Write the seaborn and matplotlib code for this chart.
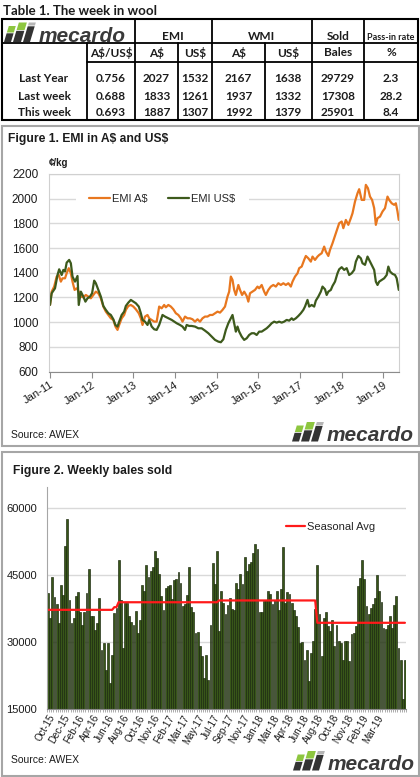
import numpy as np
import matplotlib
matplotlib.use("Agg")
import matplotlib.pyplot as plt
import seaborn as sns
from matplotlib.patches import Rectangle, Polygon

# ---- Table 1. The week in wool
table_rows = ["Last Year", "Last week", "This week"]
aud_usd_tbl = ["0.756", "0.688", "0.693"]
emi_aud_tbl = [2027, 1833, 1887]
emi_usd_tbl = [1532, 1261, 1307]
wmi_aud_tbl = [2167, 1937, 1992]
wmi_usd_tbl = [1638, 1332, 1379]
bales_tbl = [29729, 17308, 25901]
passin_tbl = ["2.3", "28.2", "8.4"]

# ---- Figure 1. EMI in A$ and US$ (c/kg), x in decimal years
emi_aud_year = [
    2011.00, 2011.04, 2011.10, 2011.16, 2011.21, 2011.26, 2011.30, 2011.36, 2011.40, 2011.45,
    2011.50, 2011.54, 2011.59, 2011.64, 2011.69, 2011.74, 2011.80, 2011.86, 2011.92, 2011.98,
    2012.04, 2012.10, 2012.16, 2012.22, 2012.28, 2012.34, 2012.40, 2012.46, 2012.52, 2012.57,
    2012.62, 2012.66, 2012.72, 2012.78, 2012.82, 2012.88, 2012.94, 2013.00, 2013.06, 2013.13,
    2013.18, 2013.22, 2013.28, 2013.34, 2013.38, 2013.44, 2013.50, 2013.56, 2013.62, 2013.68,
    2013.74, 2013.78, 2013.84, 2013.90, 2013.96, 2014.02, 2014.08, 2014.14, 2014.18, 2014.24,
    2014.30, 2014.36, 2014.42, 2014.48, 2014.54, 2014.60, 2014.66, 2014.72, 2014.78, 2014.84,
    2014.90, 2014.96, 2015.02, 2015.08, 2015.14, 2015.20, 2015.26, 2015.30, 2015.34, 2015.38,
    2015.42, 2015.46, 2015.52, 2015.56, 2015.61, 2015.66, 2015.72, 2015.76, 2015.80, 2015.86,
    2015.92, 2015.98, 2016.02, 2016.08, 2016.14, 2016.18, 2016.24, 2016.30, 2016.36, 2016.42,
    2016.48, 2016.54, 2016.60, 2016.66, 2016.72, 2016.78, 2016.82, 2016.88, 2016.94, 2016.98,
    2017.04, 2017.10, 2017.14, 2017.20, 2017.26, 2017.30, 2017.36, 2017.42, 2017.46, 2017.52,
    2017.58, 2017.62, 2017.68, 2017.72, 2017.78, 2017.84, 2017.90, 2017.94, 2018.00, 2018.04,
    2018.10, 2018.16, 2018.22, 2018.26, 2018.32, 2018.38, 2018.42, 2018.48, 2018.54, 2018.58,
    2018.63, 2018.68, 2018.73, 2018.78, 2018.82, 2018.86, 2018.92, 2018.98, 2019.04, 2019.10,
    2019.14, 2019.20, 2019.26, 2019.30, 2019.34, 2019.37,
]
emi_aud = [
    1139, 1247, 1288, 1369, 1382, 1328, 1355, 1355, 1396, 1437,
    1396, 1328, 1261, 1274, 1247, 1207, 1201, 1220, 1207, 1193,
    1220, 1247, 1234, 1193, 1126, 1085, 1058, 1031, 1018, 964,
    937, 977, 1031, 1058, 1099, 1131, 1139, 1126, 1104, 1072,
    1031, 977, 1045, 1058, 1031, 1018, 1004, 1004, 1126, 1112,
    1139, 1120, 1139, 1126, 1104, 1072, 1058, 1031, 1004, 1045,
    1031, 1031, 1023, 1004, 1023, 1004, 1031, 1045, 1045, 1058,
    1058, 1072, 1085, 1077, 1099, 1126, 1207, 1247, 1369, 1342,
    1261, 1220, 1301, 1261, 1220, 1247, 1212, 1166, 1234, 1247,
    1261, 1288, 1274, 1301, 1247, 1220, 1261, 1288, 1301, 1288,
    1315, 1301, 1315, 1301, 1315, 1288, 1328, 1369, 1396, 1437,
    1450, 1504, 1536, 1517, 1490, 1531, 1504, 1531, 1544, 1558,
    1612, 1572, 1536, 1585, 1639, 1699, 1761, 1801, 1815, 1761,
    1828, 1788, 1842, 1882, 1977, 2044, 2077, 1990, 1990, 2112,
    2085, 2017, 1990, 1923, 1788, 1842, 1855, 1896, 1923, 2017,
    1990, 1963, 1950, 1963, 1896, 1828,
]
emi_usd_year = [
    2011.00, 2011.04, 2011.12, 2011.18, 2011.22, 2011.28, 2011.32, 2011.36, 2011.40, 2011.46,
    2011.50, 2011.54, 2011.60, 2011.66, 2011.69, 2011.74, 2011.80, 2011.85, 2011.90, 2011.96,
    2012.01, 2012.06, 2012.10, 2012.16, 2012.22, 2012.28, 2012.34, 2012.40, 2012.46, 2012.52,
    2012.57, 2012.62, 2012.66, 2012.72, 2012.78, 2012.82, 2012.88, 2012.94, 2013.00, 2013.06,
    2013.13, 2013.18, 2013.22, 2013.28, 2013.34, 2013.38, 2013.44, 2013.50, 2013.56, 2013.62,
    2013.70, 2013.76, 2013.84, 2013.92, 2013.98, 2014.04, 2014.12, 2014.18, 2014.24, 2014.28,
    2014.34, 2014.40, 2014.48, 2014.56, 2014.64, 2014.72, 2014.80, 2014.88, 2014.96, 2015.04,
    2015.10, 2015.16, 2015.22, 2015.28, 2015.34, 2015.38, 2015.42, 2015.46, 2015.50, 2015.54,
    2015.60, 2015.66, 2015.72, 2015.78, 2015.84, 2015.90, 2015.96, 2016.02, 2016.08, 2016.14,
    2016.20, 2016.26, 2016.32, 2016.38, 2016.44, 2016.50, 2016.56, 2016.62, 2016.68, 2016.74,
    2016.80, 2016.84, 2016.90, 2016.96, 2017.02, 2017.08, 2017.12, 2017.18, 2017.22, 2017.28,
    2017.34, 2017.38, 2017.44, 2017.50, 2017.54, 2017.60, 2017.64, 2017.68, 2017.74, 2017.78,
    2017.84, 2017.90, 2017.94, 2018.00, 2018.06, 2018.12, 2018.18, 2018.24, 2018.30, 2018.34,
    2018.40, 2018.46, 2018.50, 2018.56, 2018.62, 2018.66, 2018.72, 2018.78, 2018.82, 2018.86,
    2018.90, 2018.96, 2019.02, 2019.08, 2019.12, 2019.16, 2019.22, 2019.28, 2019.32, 2019.37,
]
emi_usd = [
    1140, 1234, 1274, 1382, 1428, 1382, 1423, 1410, 1482, 1504,
    1477, 1369, 1328, 1374, 1139, 1247, 1207, 1166, 1193, 1207,
    1234, 1336, 1315, 1261, 1207, 1131, 1099, 1072, 1058, 1023,
    977, 964, 1004, 1058, 1085, 1131, 1158, 1180, 1166, 1153,
    1126, 1072, 1018, 1004, 977, 1018, 964, 942, 937, 977,
    1058, 1045, 1031, 1018, 1004, 991, 977, 964, 937, 977,
    969, 969, 964, 950, 950, 931, 910, 883, 856, 842,
    837, 861, 937, 991, 1031, 1058, 991, 923, 964, 923,
    883, 856, 869, 896, 910, 910, 896, 923, 923, 937,
    950, 969, 991, 1004, 996, 1004, 996, 1004, 1018, 1012,
    1031, 1018, 1031, 1050, 1072, 1099, 1126, 1180, 1126, 1139,
    1126, 1174, 1207, 1247, 1288, 1266, 1220, 1247, 1261, 1293,
    1328, 1396, 1428, 1445, 1423, 1437, 1382, 1396, 1423, 1490,
    1536, 1517, 1477, 1464, 1531, 1504, 1464, 1423, 1328, 1301,
    1328, 1342, 1355, 1382, 1450, 1410, 1391, 1382, 1355, 1261,
]
emi_ticks = [2011, 2012, 2013, 2014, 2015, 2016, 2017, 2018, 2019]
emi_tick_labels = ["Jan-11", "Jan-12", "Jan-13", "Jan-14", "Jan-15",
                   "Jan-16", "Jan-17", "Jan-18", "Jan-19"]

# ---- Figure 2. Weekly bales sold, one value per sale week, by season
bales_1516 = [41000, 35300, 44600, 40000, 38600, 34200, 42700, 40500, 51400, 57500,
              39400, 34200, 35300, 40300, 41300, 36800, 33700, 36700, 41000, 46300,
              35900, 35800, 32600, 34200, 39900, 28300, 29800, 23800, 29800, 20900,
              27000, 36500, 37500]
bales_1617 = [48400, 39500, 28600, 38800, 38800, 35800, 34400, 33900, 36900, 32000,
              35000, 42700, 41500, 47200, 44600, 46000, 46800, 50400, 48900, 45200,
              40300, 37100, 42000, 42500, 42700, 39700, 43900, 44000, 45700, 43300,
              38000, 38600, 40600, 46700, 37900, 36700, 32000, 32200, 29000, 26800,
              21900, 27000, 21400, 33700, 47600, 42900, 50400]
bales_1718 = [32400, 41400, 38800, 36200, 38200, 39900, 37300, 37100, 43100, 41900,
              45200, 43000, 49100, 45900, 47400, 47900, 49900, 51900, 50800, 36700,
              36700, 39200, 39500, 41400, 40700, 38400, 39500, 41400, 37100, 41800,
              51200, 38800, 41200, 40700, 38800, 37100, 35900, 33400, 29800, 29900,
              26000, 28300, 21200, 27500, 30200, 37300]
bales_1819 = [47200, 36200, 26800, 35400, 36700, 33500, 32400, 35000, 29000, 33900,
              30200, 29800, 26000, 30200, 30200, 25700, 31700, 32000, 33500, 42500,
              44400, 48400, 44000, 38000, 36200, 37700, 38400, 39900, 44900, 41400,
              38900, 33200, 32800, 33900, 35800, 33200, 38200, 40400, 28700, 26000,
              17300, 25900]
week_labels = ["Oct-15", "Dec-15", "Feb-16", "Apr-16", "Jun-16", "Aug-16", "Oct-16",
               "Nov-16", "Feb-17", "Mar-17", "May-17", "Jul-17", "Sep-17", "Nov-17",
               "Jan-18", "Mar-18", "Apr-18", "Jun-18", "Aug-18", "Oct-18", "Nov-18",
               "Feb-19", "Mar-19"]
avg_levels = [37200, 37800, 38900, 39300, 34300]
avg_runs = [31, 2, 47, 46, 42]

W, H = 420, 777
orange = "#e8771f"
dkgreen = "#3d5a1c"
bar_green = "#385619"
ink = "#1c1c1c"

sns.set_style("white")
plt.rcParams["font.family"] = ["Liberation Sans", "DejaVu Sans"]

fig = plt.figure(figsize=(W / 100, H / 100), dpi=100)
bg = fig.add_axes([0, 0, 1, 1])
bg.set_xlim(0, W)
bg.set_ylim(H, 0)
bg.axis("off")


def px_axes(x0, y0, x1, y1):
    return fig.add_axes([x0 / W, 1 - y1 / H, (x1 - x0) / W, (y1 - y0) / H])


def logo(x, y):
    k = 0.3

    def para(xl, xr, yt, yb, c):
        pts = [(x + 6 + xl - k * yt, y + yt), (x + 6 + xr - k * yt, y + yt),
               (x + 6 + xr - k * yb, y + yb), (x + 6 + xl - k * yb, y + yb)]
        bg.add_patch(Polygon(pts, closed=True, fc=c, ec="none"))

    para(1, 8, 4, 10.5, "#8dc63f")
    para(1, 8, 11.3, 20, "#333333")
    para(10, 18, 0.5, 8, "#8dc63f")
    para(10, 18, 8.8, 20, "#333333")
    para(20, 27, 0.5, 3.5, "#b5b5b5")
    para(20, 27, 4.3, 20, "#333333")
    bg.text(x + 36, y + 19.5, "mecardo", fontsize=15, fontweight="bold",
            fontstyle="italic", color="#3a3a3a", ha="left", va="baseline")


# ---- table
tf = ["Lato", "DejaVu Sans"]
bg.text(3, 11, "Table 1. The week in wool", fontsize=9.5, fontweight="bold",
        family=tf, color=ink, va="center", ha="left")
bg.add_patch(Rectangle((2, 19), 416, 101, fill=False, ec="black", lw=1.5))
bg.plot([2, 418], [43, 43], color="black", lw=1.3)
bg.plot([87, 418], [62, 62], color="black", lw=1.3)
for xv, y0 in [(87, 43), (135, 19), (178, 43), (212, 19), (265, 43), (312, 19), (364, 19)]:
    bg.plot([xv, xv], [y0, 120], color="black", lw=1.3)
logo(3, 22)

head1 = [("EMI", 173), ("WMI", 262), ("Sold", 338)]
for txt, xc in head1:
    bg.text(xc, 36, txt, fontsize=8.5, fontweight="bold", family=tf, color=ink,
            ha="center", va="center")
bg.text(391, 37, "Pass-in rate", fontsize=6.5, fontweight="bold", family=tf,
        color=ink, ha="center", va="center")
col_x = [111, 156.5, 195, 238.5, 288, 338, 391]
head2 = [r"A\$/US\$", r"A\$", r"US\$", r"A\$", r"US\$", "Bales", "%"]
for txt, xc in zip(head2, col_x):
    bg.text(xc, 53, txt, fontsize=8.5, fontweight="bold", family=tf, color=ink,
            ha="center", va="center")
row_y = [79, 96.5, 113]
for i, yc in enumerate(row_y):
    vals = [aud_usd_tbl[i], emi_aud_tbl[i], emi_usd_tbl[i], wmi_aud_tbl[i],
            wmi_usd_tbl[i], bales_tbl[i], passin_tbl[i]]
    bg.text(44, yc, table_rows[i], fontsize=8.5, fontweight="bold", family=tf,
            color=ink, ha="center", va="center")
    for v, xc in zip(vals, col_x):
        bg.text(xc, yc, str(v), fontsize=8.5, fontweight="bold", family=tf,
                color=ink, ha="center", va="center")

# ---- panel frames and captions
bg.add_patch(Rectangle((1.5, 126), 417, 320, fill=False, ec="#a6a6a6", lw=1.5))
bg.add_patch(Rectangle((1.5, 451.5), 417, 324, fill=False, ec="#a6a6a6", lw=1.5))
bg.text(8, 139, r"Figure 1. EMI in A\$ and US\$", fontsize=8.7, fontweight="bold",
        color=ink, va="center", ha="left")
bg.text(49, 163, "¢/kg", fontsize=7, fontweight="bold", color=ink, va="center", ha="left")
bg.text(11, 435, "Source: AWEX", fontsize=7.5, color=ink, va="center", ha="left")
logo(291, 421.5)
bg.text(13, 471, "Figure 2. Weekly bales sold", fontsize=8.7, fontweight="bold",
        color=ink, va="center", ha="left")
bg.text(11, 760, "Source: AWEX", fontsize=7.5, color=ink, va="center", ha="left")
logo(292, 750.5)

# ---- Figure 1 line chart
ax1 = px_axes(49.3, 174, 399.3, 371.5)
sns.lineplot(x=emi_aud_year, y=emi_aud, color=orange, lw=1.6, label=r"EMI A\$", ax=ax1)
sns.lineplot(x=emi_usd_year, y=emi_usd, color=dkgreen, lw=1.6, label=r"EMI US\$", ax=ax1)
ax1.set_xlim(2010.983, 2019.383)
ax1.set_ylim(600, 2200)
ax1.set_yticks(range(600, 2201, 200))
ax1.set_xticks(emi_ticks)
ax1.set_xticklabels(emi_tick_labels)
ax1.yaxis.grid(True, color="#d9d9d9", lw=1)
ax1.set_axisbelow(True)
for s in ["left", "top", "right"]:
    ax1.spines[s].set_color("#d0d0d0")
ax1.spines["bottom"].set_color("#8c8c8c")
ax1.tick_params(axis="x", direction="out", length=4, width=0.8, color="#8c8c8c",
                labelsize=8, pad=2, labelcolor=ink, bottom=True)
ax1.tick_params(axis="y", length=0, labelsize=8.5, pad=8, labelcolor=ink)
plt.setp(ax1.get_xticklabels(), rotation=32, ha="right", rotation_mode="anchor")
ax1.set_xlabel("")
ax1.set_ylabel("")
ax1.legend(loc="center left", bbox_to_anchor=(0.075, 0.873), ncol=2, frameon=True,
           facecolor="white", edgecolor="none", framealpha=1, fancybox=False,
           fontsize=8, handlelength=1.9, handletextpad=0.2, columnspacing=1.8,
           borderpad=1.2, borderaxespad=0)

# ---- Figure 2 bar chart
bales = bales_1516 + bales_1617 + bales_1718 + bales_1819
n = len(bales)
weeks = np.arange(n)
seasonal = np.repeat(avg_levels, avg_runs)

ax2 = px_axes(47, 487, 406, 709)
sns.barplot(x=weeks, y=bales, color=bar_green, saturation=1, width=0.86,
            edgecolor="#17240a", linewidth=0.45, ax=ax2)
sns.lineplot(x=weeks, y=seasonal, color="#ff1a1a", lw=1.6, label="Seasonal Avg", ax=ax2)
ax2.set_xlim(-0.5, n - 0.5)
ax2.set_ylim(15000, 64700)
ax2.set_yticks([15000, 30000, 45000, 60000])
ax2.set_yticklabels(["15000", "30000", "45000", "60000"])
ax2.yaxis.grid(True, color="#d9d9d9", lw=1)
ax2.set_axisbelow(True)
ax2.set_xticks(np.arange(len(week_labels)) * 7)
ax2.set_xticklabels(week_labels)
ax2.set_xticks(np.arange(n + 1) - 0.5, minor=True)
for s in ["top", "right"]:
    ax2.spines[s].set_visible(False)
ax2.spines["left"].set_color("#a6a6a6")
ax2.spines["bottom"].set_color("#8c8c8c")
ax2.tick_params(axis="x", which="major", length=0, labelsize=7, pad=3, labelcolor=ink)
ax2.tick_params(axis="x", which="minor", length=2, width=0.5, color="#8c8c8c", bottom=True)
ax2.tick_params(axis="y", length=0, labelsize=8, pad=7, labelcolor=ink)
plt.setp(ax2.get_xticklabels(), rotation=60, ha="right", rotation_mode="anchor")
ax2.set_xlabel("")
ax2.set_ylabel("")
ax2.legend(loc="center left", bbox_to_anchor=(0.666, 0.82), frameon=False, fontsize=8,
           handlelength=1.7, handletextpad=0.2, borderpad=0, borderaxespad=0)

fig.savefig("out.png", dpi=100)
